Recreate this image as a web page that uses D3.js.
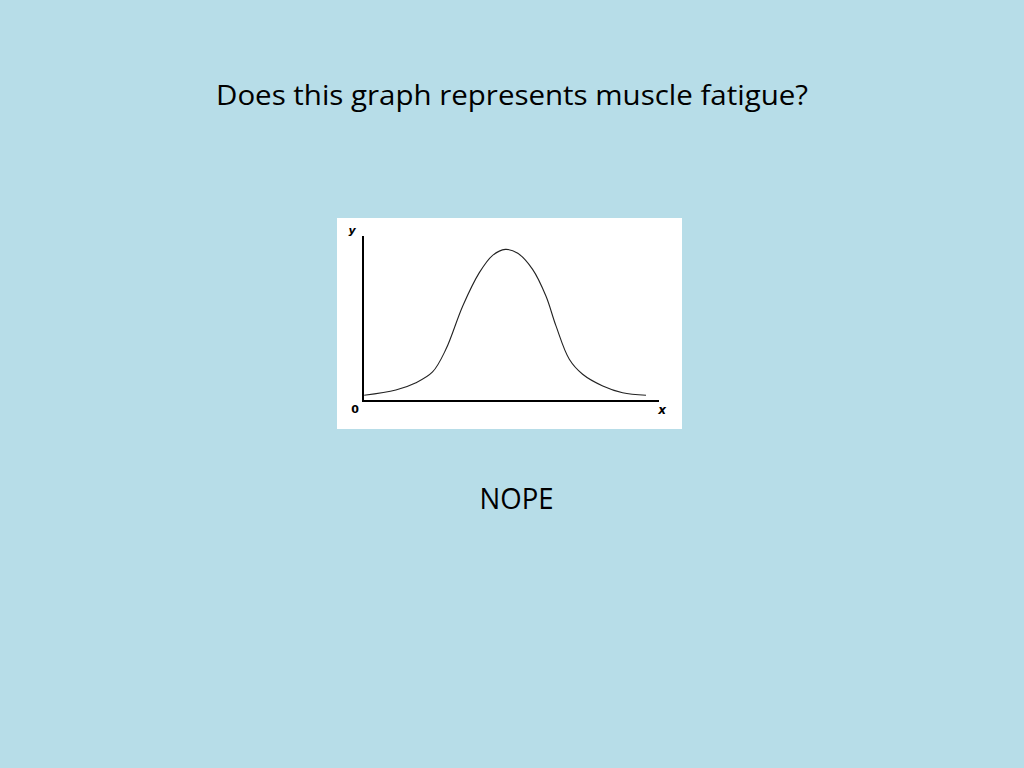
<!DOCTYPE html>
<html>
<head>
<meta charset="utf-8">
<script src="https://cdn.jsdelivr.net/npm/d3@7"></script>
<style>
  html, body { margin: 0; padding: 0; background: #b7dde8; }
  svg { display: block; }
</style>
</head>
<body>
<script>
// Data (x: 0..100 along the axis, y: 0..100 up to the axis top)
const curveX = [0.4, 11.1, 17.9, 23.5, 28.0, 33.7, 39.3, 43.8, 48.1, 52.3, 57.3, 61.8, 65.2, 69.7, 74.2, 81.0, 87.7, 95.6];
const curveY = [3.5, 6.7, 11.1, 17.6, 31.3, 57.6, 77.8, 88.3, 91.9, 89.5, 79.8, 63.6, 45.5, 25.3, 16.2, 9.1, 5.0, 3.5];
const axisLabels = ["0", "x", "y"];
const titleText = "Does this graph represents muscle fatigue?";
const answerText = "NOPE";

const W = 1024, H = 768;
const svg = d3.select("body").append("svg").attr("width", W).attr("height", H);
svg.append("rect").attr("width", W).attr("height", H).attr("fill", "#b7dde8");

// Title
svg.append("text")
  .attr("x", 512).attr("y", 104.5)
  .attr("text-anchor", "middle")
  .attr("font-family", "'Open Sans', sans-serif")
  .attr("font-size", 28)
  .attr("textLength", 592)
  .attr("lengthAdjust", "spacingAndGlyphs")
  .attr("fill", "#000")
  .text(titleText);

// Answer
svg.append("text")
  .attr("x", 516.5).attr("y", 509)
  .attr("text-anchor", "middle")
  .attr("font-family", "'Open Sans', sans-serif")
  .attr("font-size", 28.5)
  .attr("textLength", 74)
  .attr("lengthAdjust", "spacingAndGlyphs")
  .attr("fill", "#000")
  .text(answerText);

// White image box
const box = {x: 337, y: 218, w: 345, h: 211};
svg.append("rect")
  .attr("x", box.x).attr("y", box.y).attr("width", box.w).attr("height", box.h)
  .attr("fill", "#fff");

const xScale = d3.scaleLinear().domain([0, 100]).range([363, 659]);
const yScale = d3.scaleLinear().domain([0, 100]).range([401, 236]);

const g = svg.append("g");

// Axes
g.append("line")
  .attr("x1", xScale(0)).attr("y1", yScale(0))
  .attr("x2", xScale(0)).attr("y2", yScale(100))
  .attr("stroke", "#000").attr("stroke-width", 2);
g.append("line")
  .attr("x1", xScale(0) - 1).attr("y1", yScale(0))
  .attr("x2", xScale(100)).attr("y2", yScale(0))
  .attr("stroke", "#000").attr("stroke-width", 2);

// Curve
const pts = curveX.map((x, i) => [x, curveY[i]]);
const line = d3.line()
  .x(d => xScale(d[0]))
  .y(d => yScale(d[1]))
  .curve(d3.curveCatmullRom.alpha(0.5));
g.append("path")
  .datum(pts)
  .attr("d", line)
  .attr("fill", "none")
  .attr("stroke", "#222")
  .attr("stroke-width", 1.1);

// Axis labels
g.append("text")
  .attr("x", xScale(0) - 8).attr("y", yScale(0) + 12)
  .attr("text-anchor", "middle")
  .attr("font-family", "'DejaVu Sans', sans-serif")
  .attr("font-weight", "bold")
  .attr("font-size", 11)
  .text(axisLabels[0]);
g.append("text")
  .attr("x", xScale(100) + 3).attr("y", yScale(0) + 13)
  .attr("text-anchor", "middle")
  .attr("font-family", "'DejaVu Sans', sans-serif")
  .attr("font-weight", "bold")
  .attr("font-style", "italic")
  .attr("font-size", 12)
  .text(axisLabels[1]);
g.append("text")
  .attr("x", xScale(0) - 11).attr("y", yScale(100) - 2)
  .attr("text-anchor", "middle")
  .attr("font-family", "'DejaVu Sans', sans-serif")
  .attr("font-weight", "bold")
  .attr("font-style", "italic")
  .attr("font-size", 11)
  .text(axisLabels[2]);
</script>
</body>
</html>
